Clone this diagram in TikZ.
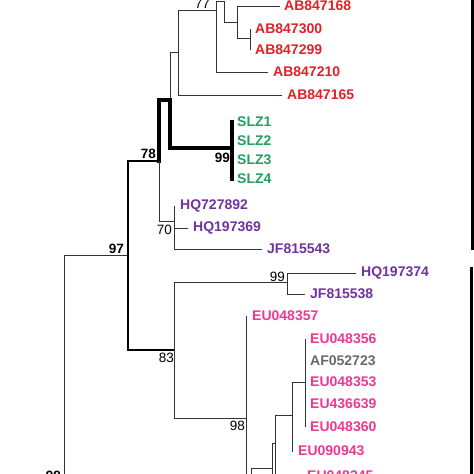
\documentclass[tikz,border=0pt]{standalone}
\usepackage{fontspec}
\setmainfont{Liberation Sans}
\definecolor{abred}{RGB}{226,32,38}
\definecolor{slzgreen}{RGB}{35,160,95}
\definecolor{hqpurple}{RGB}{112,50,160}
\definecolor{eupink}{RGB}{236,56,146}
\definecolor{afgrey}{RGB}{105,105,105}
\begin{document}
\begin{tikzpicture}[x=1pt, y=-1pt,
    br/.style={black!80, line width=1pt},
    mid/.style={black, line width=2pt},
    hl/.style={black, line width=3.5pt, line cap=rect},
    leaf/.style={anchor=west, inner sep=0pt, font=\fontsize{14}{16}\selectfont\bfseries},
    bs/.style={inner sep=1pt, font=\fontsize{13.5}{15}\selectfont},
    bsb/.style={bs, font=\fontsize{13.5}{15}\selectfont\bfseries}]
    \useasboundingbox (0,0) rectangle (474,474);
    \clip (0,0) rectangle (474,474);
    \coordinate (nR) at (64,490);
    \coordinate (n97) at (128,255);
    \coordinate (n78) at (159,161);
    \coordinate (nA) at (170,100);
    \coordinate (nRed) at (178,52);
    \coordinate (n77) at (216,10);
    \coordinate (nB) at (224,1);
    \coordinate (nC) at (237,22);
    \coordinate (nD) at (250,38);
    \coordinate (nSLZ) at (232,148);
    \coordinate (n70) at (174,221);
    \coordinate (n83) at (174,350);
    \coordinate (n99) at (287,282);
    \coordinate (n98) at (246,418);
    \coordinate (nE) at (251,521);
    \coordinate (nF) at (272,468);
    \coordinate (nH) at (290,493);
    \coordinate (nG) at (275,443);
    \coordinate (n292) at (292,415);
    \coordinate (n305) at (305,382);
    \node[leaf, abred] (ab168) at (284,6) {AB847168};
    \node[leaf, abred] (ab300) at (255,29) {AB847300};
    \node[leaf, abred] (ab299) at (255,50) {AB847299};
    \node[leaf, abred] (ab210) at (273,72) {AB847210};
    \node[leaf, abred] (ab165) at (287,95) {AB847165};
    \node[leaf, slzgreen] (slz1) at (237,122) {SLZ1};
    \node[leaf, slzgreen] (slz2) at (237,141) {SLZ2};
    \node[leaf, slzgreen] (slz3) at (237,160) {SLZ3};
    \node[leaf, slzgreen] (slz4) at (237,179) {SLZ4};
    \node[leaf, hqpurple] (hq892) at (180,206) {HQ727892};
    \node[leaf, hqpurple] (hq369) at (193,228) {HQ197369};
    \node[leaf, hqpurple] (jf543) at (267,249) {JF815543};
    \node[leaf, hqpurple] (hq374) at (361,273) {HQ197374};
    \node[leaf, hqpurple] (jf538) at (310,294) {JF815538};
    \node[leaf, eupink] (eu357) at (252,316) {EU048357};
    \node[leaf, eupink] (eu356) at (310,339) {EU048356};
    \node[leaf, afgrey] (af723) at (310,361) {AF052723};
    \node[leaf, eupink] (eu353) at (310,382) {EU048353};
    \node[leaf, eupink] (eu639) at (310,404) {EU436639};
    \node[leaf, eupink] (eu360) at (310,427) {EU048360};
    \node[leaf, eupink] (eu943) at (298,451) {EU090943};
    \node[leaf, eupink] (eu345) at (307,476) {EU048345};
    \draw[br] (nR) |- (n97);
    \draw[mid] (n97) |- (n78);
    \draw[mid] (n97) |- (n83);
    \draw[hl] (n78) |- (nA);
    \draw[br] (n78) |- (n70);
    \draw[br] (nA) |- (nRed);
    \draw[hl] (nA) |- (nSLZ);
    \draw[br] (nRed) |- (n77);
    \draw[br] (nRed) |- ([xshift=-5pt]ab165.west);
    \draw[br] (n77) |- (nB);
    \draw[br] (n77) |- ([xshift=-5pt]ab210.west);
    \draw[br] (nB) |- (nC);
    \draw[br] (nC) |- ([xshift=-4pt]ab168.west);
    \draw[br] (nC) |- (nD);
    \draw[br] (nD) |- ([xshift=-5pt]ab300.west);
    \draw[br] (nD) |- ([xshift=-5pt]ab299.west);
    \draw[hl] (nSLZ) |- ([xshift=-5pt]slz1.west);
    \draw[hl] (nSLZ) |- ([xshift=-5pt]slz2.west);
    \draw[hl] (nSLZ) |- ([xshift=-5pt]slz3.west);
    \draw[hl] (nSLZ) |- ([xshift=-5pt]slz4.west);
    \draw[br] (n70) |- ([xshift=-5pt]hq892.west);
    \draw[br] (n70) |- ([xshift=-5pt]hq369.west);
    \draw[br] (n70) |- ([xshift=-5pt]jf543.west);
    \draw[br] (n83) |- (n99);
    \draw[br] (n83) |- (n98);
    \draw[br] (n99) |- ([xshift=-5pt]hq374.west);
    \draw[br] (n99) |- ([xshift=-5pt]jf538.west);
    \draw[br] (n98) |- ([xshift=-5pt]eu357.west);
    \draw[br] (n98) |- (nE);
    \draw[br] (nE) |- (nF);
    \draw[br] (nF) |- (nG);
    \draw[br] (nF) |- (nH);
    \draw[br] (nG) |- (n292);
    \draw[br] (nG) |- ([xshift=-5pt]eu345.west);
    \draw[br] (n292) |- (n305);
    \draw[br] (n292) |- ([xshift=-5pt]eu943.west);
    \draw[br] (n305) |- ([xshift=-5pt]eu356.west);
    \draw[br] (n305) |- ([xshift=-5pt]af723.west);
    \draw[br] (n305) |- ([xshift=-5pt]eu353.west);
    \draw[br] (n305) |- ([xshift=-5pt]eu639.west);
    \draw[br] (n305) |- ([xshift=-5pt]eu360.west);
    \node[bs, anchor=south east] (b77) at (211,10) {77};
    \node[bsb, anchor=south east] (b78) at (157,160) {78};
    \node[bsb, anchor=south east] (b97) at (125,255) {97};
    \node[bsb, anchor=north east] (b99s) at (231,152) {99};
    \node[bs, anchor=north east] (b70) at (173,224) {70};
    \node[bs, anchor=south east] (b99p) at (286,283) {99};
    \node[bs, anchor=north east] (b83) at (175,352) {83};
    \node[bs, anchor=north east] (b98) at (246,420) {98};
    \node[bsb, anchor=north east] (b99r) at (62,470) {99};
    \draw[line width=3pt] (472,-5) -- (472,250);
    \draw[line width=3pt] (471,267) -- (471,480);
\end{tikzpicture}
\end{document}
